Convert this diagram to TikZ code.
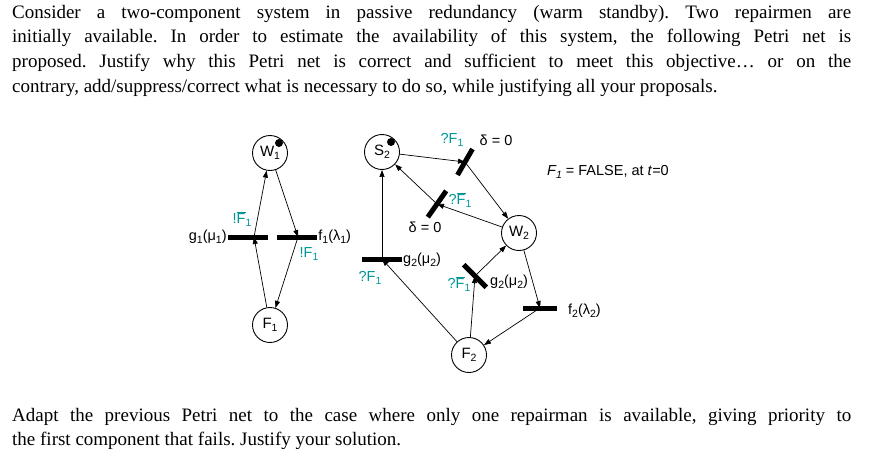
\documentclass[tikz,border=0pt]{standalone}
\usepackage{fontspec}
\setmainfont{Liberation Serif}
\newfontfamily\lsans{Liberation Sans}
\usetikzlibrary{arrows.meta}
\definecolor{tl}{RGB}{0,150,150}
\newcommand{\mysb}[1]{\raisebox{-0.35ex}{\fontsize{10.5}{10.5}\selectfont #1}}
\newcommand{\mybar}[1]{\ensuremath{\overline{\mbox{#1}}}}
\begin{document}
\frenchspacing
\begin{tikzpicture}[x=1pt,y=-1pt,
  pl/.style={circle,draw,line width=0.9pt,minimum size=35pt,inner sep=0pt,font=\lsans\fontsize{15}{15}\selectfont},
  tr/.style={draw=none,fill=black,minimum height=5pt,inner sep=0pt},
  arc/.style={-{Triangle[length=7pt,width=5pt]},line width=0.7pt},
  lb/.style={font=\lsans\fontsize{14.5}{14.5}\selectfont,inner sep=1pt},
  cl/.style={lb,text=tl},
  tok/.style={circle,fill=black,minimum size=8pt,inner sep=0pt}]
\useasboundingbox (0,0) rectangle (888,463);
\node[anchor=north west,inner sep=0pt,text width=839pt,align=justify,font=\fontsize{19}{24.6}\selectfont] (q1) at (12,5)
{Consider a two-component system in passive redundancy (warm standby). Two repairmen are\linebreak
initially available. In order to estimate the availability of this system, the following Petri net is\linebreak
proposed. Justify why this Petri net is correct and sufficient to meet this objective\dots\ or on the\linebreak
contrary, add/suppress/correct what is necessary to do so, while justifying all your proposals.};
\node[anchor=north west,inner sep=0pt,text width=839pt,align=justify,font=\fontsize{19}{24.6}\selectfont] (q2) at (12,408)
{Adapt the previous Petri net to the case where only one repairman is available, giving priority to\linebreak
the first component that fails. Justify your solution.};

% places
\node[pl] (W1) at (270,153) {W\mysb{1}};
\node[pl] (F1) at (270,325) {F\mysb{1}};
\node[pl] (S2) at (382,152) {S\mysb{2}};
\node[pl] (W2) at (519,233) {W\mysb{2}};
\node[pl] (F2) at (469,355) {F\mysb{2}};
\node[tok] (k1) at (279,143) {};
\node[tok] (k2) at (391,142) {};

% transitions
\node[tr,minimum width=40pt] (g1) at (248,237) {};
\node[tr,minimum width=40pt] (f1) at (297,237) {};
\node[tr,minimum width=40pt] (g2a) at (382,259) {};
\node[tr,minimum width=30pt,rotate=60] (t1) at (465,162) {};
\node[tr,minimum width=32pt,rotate=55] (t2) at (437,204) {};
\node[tr,minimum width=32pt,rotate=-45] (g2b) at (475,276) {};
\node[tr,minimum width=34pt] (f2) at (540,308) {};

% labels
\node[lb,anchor=east] (lg1) at (g1.west) {g\mysb{1}(μ\mysb{1})};
\node[lb,anchor=west] (lf1) at (f1.east) {f\mysb{1}(λ\mysb{1})};
\node[cl] (c1) at (242,219) {!\mybar{F}\mysb{1}};
\node[cl] (c2) at (309,254) {!F\mysb{1}};
\node[lb,anchor=west] (lg2a) at (402,260) {g\mysb{2}(μ\mysb{2})};
\node[cl] (c3) at (370,278) {?F\mysb{1}};
\node[cl] (c4) at (452,140) {?F\mysb{1}};
\node[lb] (d1) at (496,140) {δ = 0};
\node[cl] (c5) at (460,200) {?\mybar{F}\mysb{1}};
\node[lb] (d2) at (425,227) {δ = 0};
\node[lb,anchor=west] (lg2b) at (489,282) {g\mysb{2}(μ\mysb{2})};
\node[cl] (c6) at (459,284) {?\mybar{F}\mysb{1}};
\node[lb,anchor=west] (lf2) at (567,311) {f\mysb{2}(λ\mysb{2})};
\node[lb,anchor=west] (init) at (546,172) {\textit{F\mysb{1}} = FALSE, at \textit{t}=0};

% arcs
\coordinate (g1a) at (254,237);
\coordinate (f1a) at (298,237);
\draw[arc] (F1) -- (g1a);
\draw[arc] (g1a) -- (W1);
\draw[arc] (W1) -- (f1a);
\draw[arc] (f1a) -- (F1);
\draw[arc] (g2a.center) -- (S2);
\draw[arc] (F2) -- (g2a.center);
\draw[arc] (S2) -- (t1.center);
\draw[arc] (t1.center) -- (W2);
\draw[arc] (W2) -- (t2.center);
\draw[arc] (t2.center) -- (S2);
\draw[arc] (F2) -- (g2b.center);
\draw[arc] (g2b.center) -- (W2);
\coordinate (f2a) at (540,308);
\draw[arc] (W2) -- (f2a);
\draw[arc] (f2a) -- (F2);
\end{tikzpicture}
\end{document}
